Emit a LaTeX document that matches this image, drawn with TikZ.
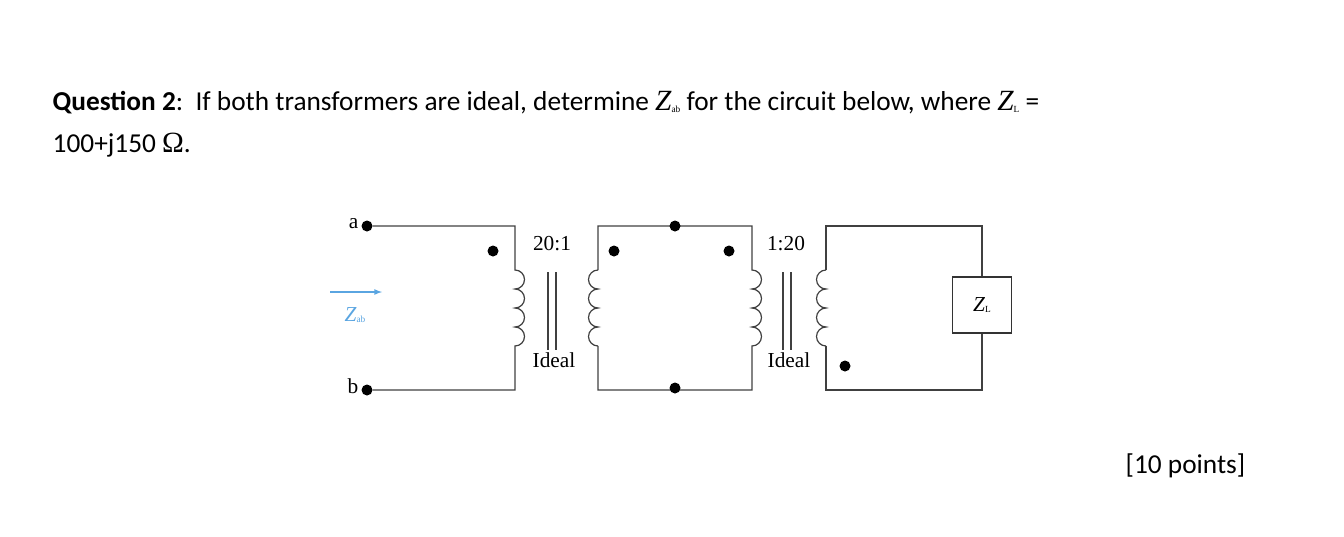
\documentclass[tikz,border=0pt]{standalone}
\usepackage{fontspec}
\setmainfont{Liberation Serif}
\newfontfamily\carfont{Carlito}
\newfontfamily\timesf{Liberation Serif}
\newcommand{\Zsub}[1]{{\timesf\itshape Z}{\timesf\scriptsize\raisebox{-0.35ex}{#1}}}
\begin{document}
\begin{tikzpicture}[x=0.75pt,y=-0.75pt,
  wire/.style={draw=black!75,line width=0.9pt},
  dotc/.style={circle,fill=black,inner sep=0pt,minimum size=11pt*0.75},
  lbl/.style={font=\fontsize{16}{18}\selectfont,inner sep=1pt},
  ttl/.style={font=\carfont\fontsize{20.5}{24}\selectfont}]
\useasboundingbox (0,0) rectangle (1344,536);
% title
\node[anchor=west,ttl] (t1) at (48,103) {\textbf{Question 2}:\ \ If both transformers are ideal, determine {\fontsize{22}{24}\selectfont\Zsub{ab}} for the circuit below, where {\fontsize{22}{24}\selectfont\Zsub{L}} =};
\node[anchor=west,ttl] (t2) at (48,145) {100+j150 {\timesf\fontsize{22}{24}\selectfont Ω}.};
\node[anchor=east,ttl] (pts) at (1250,466) {[10 points]};
% terminals
\node[dotc] (a) at (367,226) {};
\node[dotc] (b) at (367,390) {};
\node[lbl,anchor=east] (la) at (360,224) {a};
\node[lbl,anchor=east] (lb) at (360,386) {b};
% left loop with primary coil
\draw[wire] (a) -- (515,226) -- (515,270)
  arc[start angle=-90,end angle=90,radius=9.5] arc[start angle=-90,end angle=90,radius=9.5]
  arc[start angle=-90,end angle=90,radius=9.5] arc[start angle=-90,end angle=90,radius=9.5]
  -- (515,390) -- (b);
% core 1
\draw[wire] (548,272) -- (548,350); \draw[wire] (556,272) -- (556,350);
\node[lbl] (r1) at (552,244) {20:1};
\node[lbl] (i1) at (554,360) {Ideal};
% middle loop
\draw[wire] (598,270) -- (598,226) -- (752,226) -- (752,270)
  arc[start angle=-90,end angle=90,radius=9.5] arc[start angle=-90,end angle=90,radius=9.5]
  arc[start angle=-90,end angle=90,radius=9.5] arc[start angle=-90,end angle=90,radius=9.5]
  -- (752,390) -- (598,390) -- (598,346);
\draw[wire] (598,270)
  arc[start angle=-90,end angle=-270,radius=9.5] arc[start angle=-90,end angle=-270,radius=9.5]
  arc[start angle=-90,end angle=-270,radius=9.5] arc[start angle=-90,end angle=-270,radius=9.5];
\node[dotc] (m1) at (675,226) {};
\node[dotc] (m2) at (675,388) {};
% core 2
\draw[wire] (783,272) -- (783,350); \draw[wire] (791,272) -- (791,350);
\node[lbl] (r2) at (786,244) {1:20};
\node[lbl] (i2) at (789,360) {Ideal};
% right loop
\node[draw=black!80,line width=0.9pt,minimum width=44pt,minimum height=42pt,font=\fontsize{16}{18}\selectfont] (zl) at (982,305) {\Zsub{L}};
\draw[wire] (826,270) -- (826,226) -- (982,226) -- (zl.north);
\draw[wire] (zl.south) -- (982,390) -- (826,390) -- (826,346);
\draw[wire] (826,270)
  arc[start angle=-90,end angle=-270,radius=9.5] arc[start angle=-90,end angle=-270,radius=9.5]
  arc[start angle=-90,end angle=-270,radius=9.5] arc[start angle=-90,end angle=-270,radius=9.5];
% polarity dots
\node[dotc] (d1) at (493,251) {};
\node[dotc] (d2) at (614,251) {};
\node[dotc] (d3) at (729,251) {};
\node[dotc] (d4) at (845,366) {};
% Zab arrow
\coordinate (z1) at (330,292); \coordinate (z2) at (382,292);
\draw[draw={rgb,255:red,90;green,165;blue,225},line width=1pt,-latex] (z1) -- (z2);
\node[text={rgb,255:red,90;green,165;blue,225},font=\fontsize{16}{18}\selectfont] (zab) at (355,315) {\Zsub{ab}};
\end{tikzpicture}
\end{document}
